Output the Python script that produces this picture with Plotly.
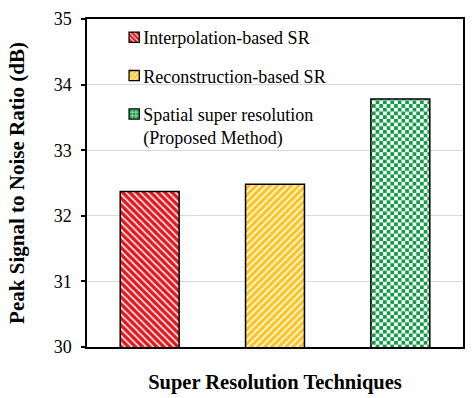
import plotly.graph_objects as go

# ---- data ----
categories = ["Interpolation-based SR", "Reconstruction-based SR",
              "Spatial super resolution<br>(Proposed Method)"]
psnr_db = [32.37, 32.48, 33.78]
y_ticks = [30, 31, 32, 33, 34, 35]

# ---- styles ----
bar_colors = ["#e8161d", "#fbc623", "#0e9d46"]
pattern_shapes = ["\\", "/", "+"]
FONT = "Liberation Serif"

fig = go.Figure()
for i, (cat, val) in enumerate(zip(categories, psnr_db)):
    fig.add_trace(go.Bar(
        x=[cat], y=[val], name=cat,
        legendgroup=f"g{i}",
        marker=dict(
            color=bar_colors[i],
            line=dict(color="black", width=1.5),
            pattern=dict(shape=pattern_shapes[i], bgcolor=bar_colors[i],
                         fgcolor="white", size=5, solidity=0.3,
                         fillmode="replace"),
        ),
        width=0.47,
    ))

fig.update_layout(
    width=474, height=398,
    margin=dict(l=87, r=9, t=16, b=51),
    paper_bgcolor="white", plot_bgcolor="white",
    barmode="overlay",
    font=dict(family=FONT, size=17, color="black"),
    showlegend=True,
    legend=dict(x=0.043, y=1.0, xanchor="left", yanchor="top",
                bgcolor="rgba(0,0,0,0)",
                font=dict(family=FONT, size=18, color="black"),
                traceorder="grouped", tracegroupgap=12, valign="top",
                itemwidth=30),
    xaxis=dict(showticklabels=False, ticks="", showline=True, mirror=True,
               linecolor="black", linewidth=1.5, showgrid=False,
               title=dict(text="<b>Super Resolution Techniques</b>",
                          font=dict(family=FONT, size=20.5, color="black"),
                          standoff=27)),
    yaxis=dict(range=[30, 35], tickvals=y_ticks, ticks="outside", ticklen=4,
               tickcolor="black", tickwidth=1.5, ticklabelstandoff=6,
               showline=True, mirror=True, linecolor="black", linewidth=1.5,
               showgrid=True, gridcolor="#d9d9d9", gridwidth=1,
               tickfont=dict(family=FONT, size=18, color="black"),
               title=dict(text="<b>Peak Signal to Noise Ratio (dB)</b>",
                          font=dict(family=FONT, size=21, color="black"),
                          standoff=23)),
)

# checkerboard fill for the proposed-method bar (Plotly has no checker pattern)
post = """
var gd = document.getElementById('{plot_id}');
var ns = 'http://www.w3.org/2000/svg';
var svg = gd.querySelector('svg.main-svg');
var defs = svg.querySelector('defs');
var p = document.createElementNS(ns, 'pattern');
p.setAttribute('id', 'chk'); p.setAttribute('patternUnits', 'userSpaceOnUse');
p.setAttribute('width', '7.4'); p.setAttribute('height', '7.4');
function r(x, y, w, c){ var e = document.createElementNS(ns, 'rect');
  e.setAttribute('x', x); e.setAttribute('y', y); e.setAttribute('width', w);
  e.setAttribute('height', w); e.setAttribute('fill', c); p.appendChild(e); }
r(0, 0, 7.4, '#ffffff'); r(0, 0, 3.7, '#0e9d46'); r(3.7, 3.7, 3.7, '#0e9d46');
defs.appendChild(p);
var tr = gd.querySelectorAll('.barlayer .trace');
tr[2].querySelectorAll('path').forEach(function(e){ e.style.fill = 'url(#chk)'; });
gd.querySelectorAll('.legend .traces').forEach(function(t){
  t.querySelectorAll('g.legendpoints').forEach(function(g){
    g.setAttribute('transform', 'translate(14,0) scale(0.85)');
  });
  if (t.textContent.indexOf('Spatial') >= 0) {
    t.querySelectorAll('path.legendbar').forEach(function(e){ e.style.fill = 'url(#chk)'; });
  }
});
"""

fig.write_html("out.html", post_script=post)
